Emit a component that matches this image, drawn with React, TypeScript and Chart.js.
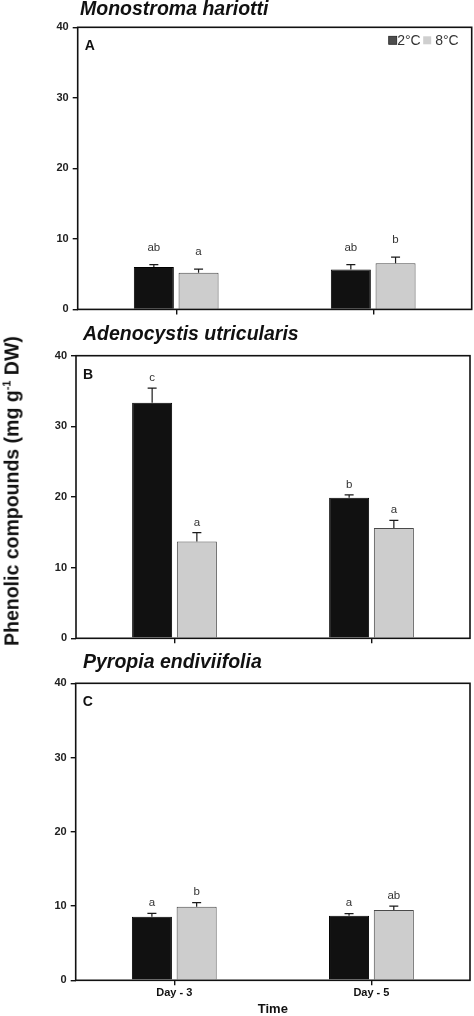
import React, { useEffect, useRef } from 'react';
import { Chart, registerables } from 'chart.js';

Chart.register(...registerables);

const FONT = "'Liberation Sans', Arial, Helvetica, sans-serif";

// ---------- DATA ----------
const categories = ['Day - 3', 'Day - 5'];
const seriesLabels = ['2°C', '8°C'];
const yTicks = [0, 10, 20, 30, 40];

const monostroma2C = [6.0, 5.65];
const monostroma2CErr = [0.35, 0.7];
const monostroma8C = [5.2, 6.55];
const monostroma8CErr = [0.5, 0.85];
const monostroma2CLetters = ['ab', 'ab'];
const monostroma8CLetters = ['a', 'b'];

const adenocystis2C = [33.35, 19.9];
const adenocystis2CErr = [2.05, 0.4];
const adenocystis8C = [13.7, 15.6];
const adenocystis8CErr = [1.25, 1.1];
const adenocystis2CLetters = ['c', 'b'];
const adenocystis8CLetters = ['a', 'a'];

const pyropia2C = [8.57, 8.7];
const pyropia2CErr = [0.45, 0.27];
const pyropia8C = [9.92, 9.47];
const pyropia8CErr = [0.53, 0.53];
const pyropia2CLetters = ['a', 'a'];
const pyropia8CLetters = ['b', 'ab'];

const yAxisTitle = 'Phenolic compounds (mg g';
const yAxisTitleSup = '-1';
const yAxisTitleEnd = ' DW)';
const xAxisTitle = 'Time';

// ---------- STYLE / LAYOUT ----------
const W = 474;
const colors = {
  c2Fill: '#111111',
  c2Border: '#000000',
  c8Fill: '#cdcdcd',
  c8Border: '#4a4a4a',
  legend2: '#4d4d4d',
  legend8: '#cfcfcf',
};
const legendTextGap = [0.5, 4];

type PanelLayout = {
  top: number;
  height: number;
  yAxisW: number;
  chartTop: number;
  chartBottom: number;
  chartRight: number;
  titleDx: number;
  titleY: number;
  letterGap: number;
  showXLabels: boolean;
  showLegend: boolean;
  showTime: boolean;
};

type PanelProps = {
  title: string;
  tag: string;
  v2: number[];
  e2: number[];
  v8: number[];
  e8: number[];
  l2: string[];
  l8: string[];
  layout: PanelLayout;
};

const annotPlugin = {
  id: 'annot',
  afterDatasetsDraw(chart: any, _args: any, opts: any) {
    const ctx = chart.ctx;
    const { left, right, top, bottom } = chart.chartArea;
    const yS = chart.scales.y;
    ctx.save();
    // error bars + letters
    chart.data.datasets.forEach((ds: any, di: number) => {
      const meta = chart.getDatasetMeta(di);
      const errs = opts.errors[di];
      const lets = opts.letters[di];
      meta.data.forEach((bar: any, i: number) => {
        const v = ds.data[i];
        const yTop = yS.getPixelForValue(v + errs[i]);
        ctx.strokeStyle = '#1a1a1a';
        ctx.lineWidth = 1.2;
        ctx.beginPath();
        ctx.moveTo(bar.x, bar.y);
        ctx.lineTo(bar.x, yTop);
        ctx.moveTo(bar.x - 4.5, yTop);
        ctx.lineTo(bar.x + 4.5, yTop);
        ctx.stroke();
        ctx.fillStyle = '#333';
        ctx.font = `11.5px ${FONT}`;
        ctx.textAlign = 'center';
        ctx.textBaseline = 'middle';
        ctx.fillText(lets[i], bar.x, yTop - opts.letterGap);
      });
    });
    // frame
    ctx.strokeStyle = '#111';
    ctx.lineWidth = 1.6;
    ctx.strokeRect(left, top, right - left, bottom - top);
    // panel tag
    ctx.fillStyle = '#111';
    ctx.font = `bold 14px ${FONT}`;
    ctx.textAlign = 'left';
    ctx.textBaseline = 'middle';
    ctx.fillText(opts.tag, left + 7, top + 19);
    // title
    ctx.font = `italic bold 19.5px ${FONT}`;
    ctx.textBaseline = 'middle';
    ctx.fillText(opts.title, left + opts.titleDx, opts.titleY);
    // legend
    if (opts.showLegend) {
      ctx.font = `14px ${FONT}`;
      ctx.textBaseline = 'middle';
      let x = right - 83;
      const cy = top + 13;
      const sq = 8;
      seriesLabels.forEach((lab, k) => {
        ctx.fillStyle = k === 0 ? colors.legend2 : colors.legend8;
        ctx.fillRect(x, cy - sq / 2, sq, sq);
        if (k === 0) {
          ctx.strokeStyle = '#222';
          ctx.lineWidth = 0.8;
          ctx.strokeRect(x, cy - sq / 2, sq, sq);
        }
        x += sq + legendTextGap[k];
        ctx.fillStyle = '#333';
        ctx.fillText(lab, x, cy + 1);
        x += ctx.measureText(lab).width + 2.5;
      });
    }
    // x-axis title
    if (opts.showTime) {
      ctx.fillStyle = '#111';
      ctx.font = `bold 13px ${FONT}`;
      ctx.textAlign = 'center';
      ctx.textBaseline = 'middle';
      ctx.fillText(xAxisTitle, (left + right) / 2, bottom + 29);
    }
    ctx.restore();
  },
};

function Panel({ title, tag, v2, e2, v8, e8, l2, l8, layout }: PanelProps) {
  const ref = useRef<HTMLCanvasElement | null>(null);
  useEffect(() => {
    if (!ref.current) return;
    const xAxisH = layout.height - layout.chartBottom;
    const chart = new Chart(ref.current, {
      type: 'bar',
      data: {
        labels: categories,
        datasets: [
          {
            label: seriesLabels[0],
            data: v2,
            backgroundColor: colors.c2Fill,
            borderColor: colors.c2Border,
            borderWidth: 1,
            barPercentage: 0.895,
            categoryPercentage: 0.454,
          },
          {
            label: seriesLabels[1],
            data: v8,
            backgroundColor: colors.c8Fill,
            borderColor: colors.c8Border,
            borderWidth: 1,
            barPercentage: 0.895,
            categoryPercentage: 0.454,
          },
        ],
      },
      options: {
        responsive: false,
        animation: false,
        events: [],
        devicePixelRatio: 1,
        layout: {
          padding: {
            top: layout.chartTop,
            right: W - layout.chartRight,
            bottom: 0,
            left: 0,
          },
        },
        plugins: {
          legend: { display: false },
          tooltip: { enabled: false },
          title: { display: false },
          annot: {
            errors: [e2, e8],
            letters: [l2, l8],
            letterGap: layout.letterGap,
            tag,
            title,
            titleDx: layout.titleDx,
            titleY: layout.titleY,
            showLegend: layout.showLegend,
            showTime: layout.showTime,
          },
        } as any,
        scales: {
          x: {
            grid: {
              display: true,
              drawOnChartArea: false,
              drawTicks: true,
              tickLength: 5,
              color: '#111',
              lineWidth: 1.4,
              offset: false,
            },
            border: { display: false },
            ticks: {
              display: layout.showXLabels,
              font: { family: FONT, size: 11, weight: 'bold' },
              color: '#111',
              padding: 1,
            },
            afterFit: (s: any) => {
              s.height = xAxisH;
            },
          },
          y: {
            min: 0,
            max: 40,
            afterBuildTicks: (s: any) => {
              s.ticks = yTicks.map((v) => ({ value: v }));
            },
            grid: {
              display: true,
              drawOnChartArea: false,
              drawTicks: true,
              tickLength: 5,
              color: '#111',
              lineWidth: 1.4,
            },
            border: { display: false },
            ticks: {
              font: { family: FONT, size: 11, weight: 'bold' },
              color: '#222',
              padding: 4,
            },
            afterFit: (s: any) => {
              s.width = layout.yAxisW;
            },
          },
        },
      },
      plugins: [annotPlugin],
    } as any);
    return () => chart.destroy();
  }, []);
  return (
    <canvas
      ref={ref}
      width={W}
      height={layout.height}
      style={{ position: 'absolute', left: 0, top: layout.top, width: W, height: layout.height }}
    />
  );
}

const layoutA: PanelLayout = {
  top: 0, height: 320, yAxisW: 77.7, chartTop: 27.3, chartBottom: 310.7, chartRight: 471.7,
  titleDx: 2.3, titleY: 9.5, letterGap: 17, showXLabels: false, showLegend: true, showTime: false,
};
const layoutB: PanelLayout = {
  top: 320, height: 330, yAxisW: 76, chartTop: 35.7, chartBottom: 318.3, chartRight: 470,
  titleDx: 7, titleY: 15, letterGap: 10, showXLabels: false, showLegend: false, showTime: false,
};
const layoutC: PanelLayout = {
  top: 650, height: 366, yAxisW: 75.7, chartTop: 33.3, chartBottom: 330.3, chartRight: 470,
  titleDx: 7.3, titleY: 12.7, letterGap: 10.5, showXLabels: true, showLegend: false, showTime: true,
};

export default function App() {
  return (
    <div
      style={{
        position: 'absolute',
        left: 0,
        top: 0,
        width: W,
        height: 1016,
        overflow: 'hidden',
        background: '#fff',
        fontFamily: FONT,
      }}
    >
      <Panel title="Monostroma hariotti" tag="A" v2={monostroma2C} e2={monostroma2CErr} v8={monostroma8C} e8={monostroma8CErr} l2={monostroma2CLetters} l8={monostroma8CLetters} layout={layoutA} />
      <Panel title="Adenocystis utricularis" tag="B" v2={adenocystis2C} e2={adenocystis2CErr} v8={adenocystis8C} e8={adenocystis8CErr} l2={adenocystis2CLetters} l8={adenocystis8CLetters} layout={layoutB} />
      <Panel title="Pyropia endiviifolia" tag="C" v2={pyropia2C} e2={pyropia2CErr} v8={pyropia8C} e8={pyropia8CErr} l2={pyropia2CLetters} l8={pyropia8CLetters} layout={layoutC} />
      <div
        style={{
          position: 'absolute',
          left: 13,
          top: 491,
          transform: 'translate(-50%, -50%) rotate(-90deg)',
          whiteSpace: 'nowrap',
          fontWeight: 'bold',
          fontSize: 19.5,
          lineHeight: '22px',
          color: '#111',
        }}
      >
        {yAxisTitle}
        <sup style={{ fontSize: 11, verticalAlign: 'baseline', position: 'relative', top: -8 }}>{yAxisTitleSup}</sup>
        {yAxisTitleEnd}
      </div>
    </div>
  );
}
